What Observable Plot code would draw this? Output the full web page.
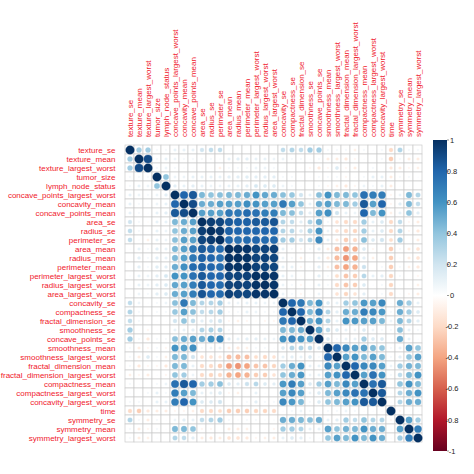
<!DOCTYPE html>
<html>
<head>
<meta charset="utf-8">
<script src="https://cdn.jsdelivr.net/npm/d3@7"></script>
<script src="https://cdn.jsdelivr.net/npm/@observablehq/plot@0.6"></script>
<style>
  body { margin: 0; background: #fff; }
  #chart svg { display: block; }
</style>
</head>
<body>
<div id="chart"></div>
<script>
// Variables in clustered order (rows top to bottom, columns left to right)
const variables = [
  "texture_se", "texture_mean", "texture_largest_worst", "tumor_size", "lymph_node_status",
  "concave_points_largest_worst", "concavity_mean", "concave_points_mean", "area_se", "radius_se",
  "perimeter_se", "area_mean", "radius_mean", "perimeter_mean", "perimeter_largest_worst",
  "radius_largest_worst", "area_largest_worst", "concavity_se", "compactness_se", "fractal_dimension_se",
  "smoothness_se", "concave_points_se", "smoothness_mean", "smoothness_largest_worst", "fractal_dimension_mean",
  "fractal_dimension_largest_worst", "compactness_mean", "compactness_largest_worst", "concavity_largest_worst", "time",
  "symmetry_se", "symmetry_mean", "symmetry_largest_worst"
];

// Lower triangle of the correlation matrix: row i holds r(i, j) for j < i
const lowerRows = [
  [],
  [0.35],
  [0.35, 0.9],
  [0.05, 0.05, 0.05],
  [0.05, 0.1, 0.08, 0.4],
  [0.1, 0.08, 0.05, 0.08, 0.12],
  [0.1, 0.05, 0.03, 0.08, 0.1, 0.8],
  [0.1, 0.05, 0.02, 0.1, 0.12, 0.85, 0.9],
  [0.2, 0.05, -0.03, 0.1, 0.1, 0.45, 0.5, 0.55],
  [0.25, 0.05, -0.02, 0.1, 0.08, 0.4, 0.5, 0.55, 0.95],
  [0.25, 0.03, -0.08, 0.1, 0.08, 0.42, 0.55, 0.55, 0.92, 0.96],
  [0.02, 0.1, 0.05, 0.12, 0.1, 0.45, 0.55, 0.72, 0.85, 0.82, 0.78],
  [0.0, 0.12, 0.05, 0.12, 0.1, 0.45, 0.55, 0.72, 0.82, 0.8, 0.75, 0.99],
  [0.0, 0.12, 0.05, 0.13, 0.12, 0.5, 0.62, 0.78, 0.82, 0.8, 0.78, 0.98, 0.99],
  [0.03, 0.1, 0.08, 0.12, 0.18, 0.6, 0.6, 0.75, 0.85, 0.8, 0.8, 0.92, 0.93, 0.94],
  [0.02, 0.1, 0.08, 0.12, 0.15, 0.52, 0.55, 0.7, 0.85, 0.8, 0.78, 0.93, 0.94, 0.93, 0.99],
  [0.02, 0.08, 0.05, 0.12, 0.15, 0.5, 0.55, 0.7, 0.87, 0.8, 0.78, 0.94, 0.92, 0.92, 0.98, 0.98],
  [0.25, 0.08, 0.02, 0.05, 0.08, 0.42, 0.72, 0.45, 0.3, 0.3, 0.35, 0.1, 0.08, 0.1, 0.1, 0.08, 0.08],
  [0.3, 0.05, -0.02, 0.05, 0.05, 0.38, 0.55, 0.42, 0.25, 0.28, 0.35, 0.05, 0.05, 0.1, 0.08, 0.05, 0.05, 0.8],
  [0.25, 0.05, -0.02, 0.02, 0.02, 0.2, 0.4, 0.25, 0.12, 0.15, 0.2, -0.05, -0.08, -0.05, -0.03, -0.05, -0.05, 0.72, 0.8],
  [0.35, 0.02, -0.05, 0.02, 0.0, 0.1, 0.1, 0.12, 0.3, 0.32, 0.3, 0.05, 0.03, 0.03, 0.0, 0.02, 0.02, 0.45, 0.45, 0.5],
  [0.35, 0.05, -0.12, 0.05, 0.05, 0.42, 0.5, 0.55, 0.5, 0.6, 0.65, 0.12, 0.1, 0.12, 0.12, 0.1, 0.08, 0.6, 0.68, 0.6, 0.55],
  [0.05, -0.1, -0.05, 0.05, -0.05, 0.6, 0.55, 0.62, 0.05, 0.08, 0.1, -0.1, -0.12, -0.08, 0.05, 0.05, 0.02, 0.15, 0.3, 0.3, 0.25, 0.15],
  [0.05, -0.1, 0.15, 0.05, -0.08, 0.45, 0.45, 0.2, -0.15, -0.15, -0.12, -0.3, -0.32, -0.3, -0.18, -0.2, -0.15, 0.1, 0.12, 0.1, 0.15, 0.05, 0.8],
  [0.05, -0.12, -0.05, -0.05, -0.12, 0.45, 0.45, 0.1, -0.2, -0.2, -0.25, -0.42, -0.45, -0.4, -0.28, -0.28, -0.22, 0.35, 0.5, 0.6, 0.1, 0.1, 0.65, 0.55],
  [-0.08, -0.05, -0.1, 0.02, -0.05, 0.4, 0.35, 0.08, -0.2, -0.22, -0.2, -0.35, -0.4, -0.35, -0.25, -0.25, -0.15, 0.4, 0.5, 0.58, 0.08, 0.1, 0.55, 0.6, 0.8],
  [0.05, 0.02, 0.0, 0.05, 0.08, 0.75, 0.85, 0.8, 0.35, 0.35, 0.42, 0.15, 0.12, 0.22, 0.28, 0.15, 0.12, 0.58, 0.7, 0.55, 0.15, 0.35, 0.55, 0.45, 0.65, 0.55],
  [0.02, 0.0, 0.05, 0.1, 0.05, 0.7, 0.55, 0.45, 0.1, 0.1, 0.15, -0.05, -0.08, 0.0, 0.1, 0.02, 0.0, 0.55, 0.65, 0.55, 0.08, 0.15, 0.45, 0.55, 0.65, 0.75, 0.75],
  [0.05, 0.05, 0.0, 0.1, 0.1, 0.7, 0.8, 0.6, 0.15, 0.15, 0.2, 0.0, -0.02, 0.05, 0.12, 0.05, 0.05, 0.65, 0.58, 0.45, 0.05, 0.15, 0.4, 0.45, 0.55, 0.6, 0.85, 0.85],
  [-0.2, -0.25, -0.12, -0.1, -0.1, -0.05, -0.05, -0.08, -0.2, -0.2, -0.18, -0.25, -0.25, -0.25, -0.22, -0.22, -0.2, 0.02, 0.05, 0.08, 0.05, -0.02, 0.05, 0.05, 0.08, 0.05, -0.02, 0.02, 0.02],
  [0.3, 0.05, -0.1, 0.05, 0.02, 0.08, 0.12, 0.1, 0.25, 0.3, 0.35, 0.05, 0.03, 0.05, 0.05, 0.03, 0.03, 0.5, 0.5, 0.45, 0.42, 0.5, 0.1, 0.12, 0.35, 0.25, 0.4, 0.3, 0.3, -0.05],
  [0.05, -0.1, -0.05, 0.05, 0.02, 0.45, 0.45, 0.4, -0.05, -0.05, 0.0, -0.1, -0.1, -0.08, 0.0, -0.02, -0.05, 0.35, 0.35, 0.3, 0.1, 0.1, 0.55, 0.4, 0.48, 0.45, 0.6, 0.5, 0.5, 0.02, 0.55],
  [0.05, -0.1, -0.08, 0.02, 0.0, 0.3, 0.25, 0.12, -0.1, -0.12, -0.1, -0.15, -0.15, -0.12, -0.05, -0.08, -0.1, 0.1, 0.15, 0.12, 0.05, 0.02, 0.4, 0.55, 0.45, 0.6, 0.45, 0.6, 0.5, 0.02, 0.35, 0.7]
];

// Diverging red-white-blue palette anchored on evenly spaced correlation values
const colorStops = [-1, -0.8, -0.6, -0.4, -0.2, 0, 0.2, 0.4, 0.6, 0.8, 1];
const colorRamp = ["#67001F", "#B2182B", "#D6604D", "#F4A582", "#FDDBC7", "#FFFFFF",
                   "#D1E5F0", "#92C5DE", "#4393C3", "#2166AC", "#053061"];
const legendTicks = [1, 0.8, 0.6, 0.4, 0.2, 0, -0.2, -0.4, -0.6, -0.8, -1];

// Full symmetric table, one record per cell
const cells = [];
variables.forEach((rowName, i) => {
  variables.forEach((colName, j) => {
    const value = i === j ? 1 : (i > j ? lowerRows[i][j] : lowerRows[j][i]);
    cells.push({row: rowName, col: colName, value});
  });
});

const W = 474, H = 474;
const mL = 118, mT = 138.6, mR = 46, mB = 25.4;
const cellSize = (W - mL - mR) / variables.length;

const chart = Plot.plot({
  width: W,
  height: H,
  marginLeft: mL,
  marginTop: mT,
  marginRight: mR,
  marginBottom: mB,
  style: {fontFamily: "'Liberation Sans', Arial, Helvetica, sans-serif", background: "white"},
  x: {domain: variables, padding: 0, label: null},
  y: {domain: variables, padding: 0, label: null},
  r: {type: "sqrt", domain: [0, 1], range: [0, 0.46 * cellSize]},
  color: {type: "linear", domain: colorStops, range: colorRamp, interpolate: "rgb"},
  marks: [
    Plot.cell(cells, {x: "col", y: "row", fill: "white", stroke: "#cccccc", strokeWidth: 0.7, inset: 0}),
    Plot.dot(cells, {x: "col", y: "row", r: d => Math.abs(d.value), fill: "value", stroke: "value", strokeWidth: 0.3}),
    Plot.axisX({anchor: "top", label: null, tickSize: 0, tickPadding: 2, tickRotate: -90, fontSize: 8, color: "#f0202c"}),
    Plot.axisY({anchor: "left", label: null, tickSize: 0, tickPadding: 3, fontSize: 8, color: "#f0202c"})
  ]
});

document.getElementById("chart").appendChild(chart);

// Vertical color bar legend on the right
const svg = d3.select(chart);
const grad = svg.append("defs").append("linearGradient")
  .attr("id", "corr-bar").attr("x1", 0).attr("x2", 0).attr("y1", 1).attr("y2", 0);
colorStops.forEach((s, k) => {
  grad.append("stop").attr("offset", (s + 1) / 2).attr("stop-color", colorRamp[k]);
});
const barX = 433, barW = 14, barTop = 140, barBottom = 451;
svg.append("rect")
  .attr("x", barX).attr("y", barTop).attr("width", barW).attr("height", barBottom - barTop)
  .attr("fill", "url(#corr-bar)");
const ly = d3.scaleLinear().domain([-1, 1]).range([barBottom, barTop]);
const lg = svg.append("g").attr("font-size", 7.5).attr("fill", "#222")
  .attr("font-family", "'Liberation Sans', Arial, sans-serif");
legendTicks.forEach(t => {
  lg.append("line").attr("x1", barX + barW).attr("x2", barX + barW + 2)
    .attr("y1", ly(t)).attr("y2", ly(t)).attr("stroke", "#555").attr("stroke-width", 0.6);
  lg.append("text").attr("x", barX + barW + 5).attr("y", ly(t)).attr("dy", "0.35em").text(String(t));
});
</script>
</body>
</html>
